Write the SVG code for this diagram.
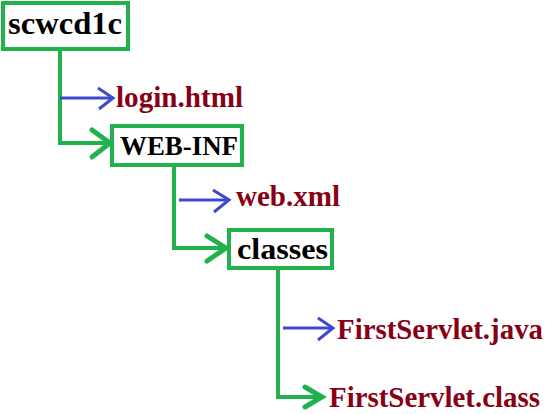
<svg xmlns="http://www.w3.org/2000/svg" width="545" height="414" viewBox="0 0 545 414">
<style>
.box{fill:#fff;stroke:#22B14C;stroke-width:4}
.g{fill:none;stroke:#22B14C;stroke-width:4;stroke-linecap:square;stroke-linejoin:miter}
.ga{fill:none;stroke:#22B14C;stroke-width:5;stroke-linecap:round;stroke-linejoin:miter}
.b{fill:none;stroke:#3F48CC;stroke-width:3;stroke-linejoin:miter}
.t{font-family:"Liberation Serif","Times New Roman",serif;font-weight:bold}
.k{fill:#000}
.r{fill:#880015}
</style>
<rect width="545" height="414" fill="#fff"/>
<g id="connectors">
<path class="g" d="M60,51 V143 H110"/>
<path class="ga" d="M92,130 L110,143 L92,157"/>
<path class="b" d="M60,98 H112"/>
<path class="b" d="M98,88 L113,98 L99,109"/>
<path class="g" d="M174,166 V248 H226"/>
<path class="ga" d="M207,236 L226,248 L207,261"/>
<path class="b" d="M179,200 H228"/>
<path class="b" d="M213,190 L229,200 L214,212"/>
<path class="g" d="M278,270 V397 H322"/>
<path class="ga" d="M305,387 L322,397 L305,407"/>
<path class="b" d="M283,328 H332"/>
<path class="b" d="M318,318 L333,328 L318,340"/>
</g>
<g id="scwcd1c">
<rect class="box" x="3" y="3" width="125" height="46"/>
<text class="t k" x="8" y="34" font-size="32" textLength="114" lengthAdjust="spacingAndGlyphs">scwcd1c</text>
</g>
<g id="login">
<text class="t r" x="116" y="107" font-size="29" textLength="127" lengthAdjust="spacingAndGlyphs">login.html</text>
</g>
<g id="webinf">
<rect class="box" x="112" y="126" width="130" height="39"/>
<text class="t k" x="120" y="155" font-size="27" textLength="118" lengthAdjust="spacingAndGlyphs">WEB-INF</text>
</g>
<g id="webxml">
<text class="t r" x="236" y="206" font-size="29" textLength="104" lengthAdjust="spacingAndGlyphs">web.xml</text>
</g>
<g id="classes">
<rect class="box" x="229" y="230" width="103" height="38"/>
<text class="t k" x="237" y="259" font-size="30" textLength="91" lengthAdjust="spacingAndGlyphs">classes</text>
</g>
<g id="java">
<text class="t r" x="337" y="339" font-size="29" textLength="206" lengthAdjust="spacingAndGlyphs">FirstServlet.java</text>
</g>
<g id="class">
<text class="t r" x="329" y="407" font-size="29" textLength="211" lengthAdjust="spacingAndGlyphs">FirstServlet.class</text>
</g>
</svg>
